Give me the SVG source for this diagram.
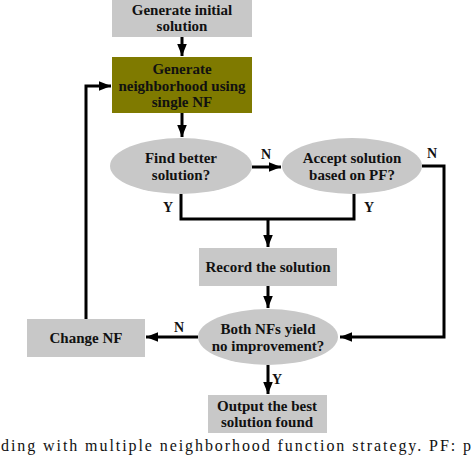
<svg xmlns="http://www.w3.org/2000/svg" width="474" height="457" viewBox="0 0 474 457">
<defs>
<marker id="ah" viewBox="0 0 10 10" refX="10" refY="5" markerWidth="4" markerHeight="4" markerUnits="strokeWidth" orient="auto">
<path d="M0,1 L10,5 L0,9 z" fill="#000"/>
</marker>
<style>
.box{fill:#c8c8c8}
.olive{fill:#7f7a00}
.t{font-family:"Liberation Serif",serif;font-weight:bold;font-size:15px;text-anchor:middle;fill:#111}
.lbl{font-family:"Liberation Serif",serif;font-weight:bold;font-size:14px;fill:#111}
.c{stroke:#000;stroke-width:3;fill:none}
.cap{font-family:"Liberation Serif",serif;font-size:16px;fill:#111}
</style>
</defs>
<rect width="474" height="457" fill="#fff"/>
<g id="n1"><rect class="box" x="112" y="0" width="140" height="37"/><text class="t" x="182" y="15">Generate initial</text><text class="t" x="182" y="31">solution</text></g>
<g id="n2"><rect class="olive" x="112" y="57" width="140" height="56"/><text class="t" x="182" y="74">Generate</text><text class="t" x="182" y="91">neighborhood using</text><text class="t" x="182" y="107">single NF</text></g>
<g id="n3"><ellipse class="box" cx="181" cy="166" rx="71" ry="28"/><text class="t" x="181" y="163">Find better</text><text class="t" x="181" y="180">solution?</text></g>
<g id="n4"><ellipse class="box" cx="352" cy="166" rx="70" ry="28"/><text class="t" x="352" y="163">Accept solution</text><text class="t" x="352" y="180">based on PF?</text></g>
<g id="n5"><rect class="box" x="199" y="248" width="138" height="38"/><text class="t" x="268" y="272">Record the solution</text></g>
<g id="n6"><ellipse class="box" cx="268" cy="337" rx="70" ry="28"/><text class="t" x="268" y="334">Both NFs yield</text><text class="t" x="268" y="351">no improvement?</text></g>
<g id="n7"><rect class="box" x="27" y="319" width="118" height="38"/><text class="t" x="86" y="343">Change NF</text></g>
<g id="n8"><rect class="box" x="208" y="395" width="119" height="38"/><text class="t" x="267" y="411">Output the best</text><text class="t" x="267" y="427">solution found</text></g>
<g id="connectors">
<path class="c" d="M182,37 V56" marker-end="url(#ah)"/>
<path class="c" d="M182,113 V137" marker-end="url(#ah)"/>
<path class="c" d="M252,167 H281" marker-end="url(#ah)"/>
<path class="c" d="M422,166 H444 V337 H340" marker-end="url(#ah)"/>
<path class="c" d="M181,194 V219 H354 V194"/>
<path class="c" d="M268,219 V247" marker-end="url(#ah)"/>
<path class="c" d="M268,286 V308" marker-end="url(#ah)"/>
<path class="c" d="M198,337 H146" marker-end="url(#ah)"/>
<path class="c" d="M86,319 V86 H111" marker-end="url(#ah)"/>
<path class="c" d="M268,365 V394" marker-end="url(#ah)"/>
<text class="lbl" x="261" y="159">N</text>
<text class="lbl" x="427" y="158">N</text>
<text class="lbl" x="163" y="212">Y</text>
<text class="lbl" x="364" y="212">Y</text>
<text class="lbl" x="174" y="332">N</text>
<text class="lbl" x="272" y="384">Y</text>
</g>
<text class="cap" x="1" y="451" textLength="470" lengthAdjust="spacing">ding with multiple neighborhood function strategy. PF: p</text>
</svg>
